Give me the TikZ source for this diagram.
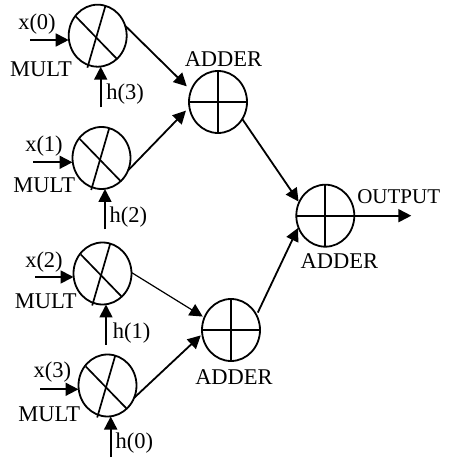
\documentclass[tikz,border=0pt]{standalone}
\usepackage{fontspec}
\setmainfont{Liberation Serif}
\usetikzlibrary{arrows.meta,shapes.geometric}
\tikzset{
  op/.style={ellipse,draw,line width=1.8pt,minimum width=58pt,minimum height=62pt,inner sep=0pt,outer sep=0pt},
  lab/.style={inner sep=0pt,font=\fontsize{22.5}{24}\selectfont},
  thick arrow/.style={line width=1.8pt,-{Triangle[length=13pt,width=13pt]}},
  strokeline/.style={line width=1.7pt}
}
\begin{document}
\begin{tikzpicture}[x=1pt,y=-1pt]
\useasboundingbox (0,0) rectangle (474,462);
% operator circles
\node[op] (m0) at (97.7,35.7) {};
\node[op] (m1) at (101.5,158) {};
\node[op] (m2) at (102.5,273.5) {};
\node[op] (m3) at (107.5,385.5) {};
\node[op] (a0) at (218,102) {};
\node[op] (a1) at (231,330) {};
\node[op] (a2) at (325.3,215.7) {};
% multiplier crosses
\foreach \n in {m0,m1,m2,m3}{
  \draw[strokeline] (\n.center) ++(-21.7,-19) -- ++(41.4,42.7);
  \draw[strokeline] (\n.center) ++(7.7,-29.7) -- ++(-18,61.7);
}
% adder crosses
\foreach \n in {a0,a1,a2}{
  \draw[strokeline] (\n.north) -- (\n.south);
  \draw[strokeline] (\n.west) -- (\n.east);
}
% free ends
\coordinate (x0) at (30,40);
\coordinate (x1) at (33.3,162.3);
\coordinate (x2) at (35,277);
\coordinate (x3) at (40,389.3);
\coordinate (h3) at (100.7,107.3);
\coordinate (h2) at (105,229.3);
\coordinate (h1) at (106,345);
\coordinate (h0) at (110.7,457);
\coordinate (out) at (411.3,215.7);
% inputs
\draw[thick arrow] (x0) -- (x0 -| m0.west);
\draw[thick arrow] (x1) -- (x1 -| m1.west);
\draw[thick arrow] (x2) -- (x2 -| m2.west);
\draw[thick arrow] (x3) -- (x3 -| m3.west);
\draw[thick arrow] (h3) -- (h3 |- m0.south);
\draw[thick arrow] (h2) -- (h2 |- m1.south);
\draw[thick arrow] (h1) -- (h1 |- m2.south);
\draw[thick arrow] (h0) -- (h0 |- m3.south);
% connections
\draw[thick arrow,shorten >=6pt] (m0.20) -- (a0.157);
\draw[thick arrow,shorten >=5pt] (m1.-25) -- (a0.-170);
\draw[thick arrow,line width=1.2pt,shorten >=2pt] (m2.2) -- (a1.155);
\draw[thick arrow,shorten >=2pt] (m3.-25) -- (a1.-172);
\draw[thick arrow,shorten >=1pt] (a0.-35) -- (a2.153);
\draw[thick arrow,shorten <=3pt,shorten >=1pt] (a1.30) -- (a2.-157);
\draw[thick arrow] (a2.east) -- (out);
% labels
\node[lab] (lx0) at (37,24) {x(0)};
\node[lab] (lm0) at (41,69) {MULT};
\node[lab] (lh3) at (125,94) {h(3)};
\node[lab] (lx1) at (44,145.7) {x(1)};
\node[lab] (lm1) at (44.3,185.7) {MULT};
\node[lab] (lh2) at (128.3,216.7) {h(2)};
\node[lab] (lx2) at (44,262) {x(2)};
\node[lab] (lm2) at (45.7,301.7) {MULT};
\node[lab] (lh1) at (131.7,332.7) {h(1)};
\node[lab] (lx3) at (52.3,371.7) {x(3)};
\node[lab] (lm3) at (49.3,414.3) {MULT};
\node[lab] (lh0) at (134.3,442.7) {h(0)};
\node[lab] (la0) at (223.5,59) {ADDER};
\node[lab] (la1) at (234,376.7) {ADDER};
\node[lab] (la2) at (339.3,261) {ADDER};
\node[lab,font=\fontsize{21}{24}\selectfont] (lout) at (398.7,196.7) {OUTPUT};
\end{tikzpicture}
\end{document}
